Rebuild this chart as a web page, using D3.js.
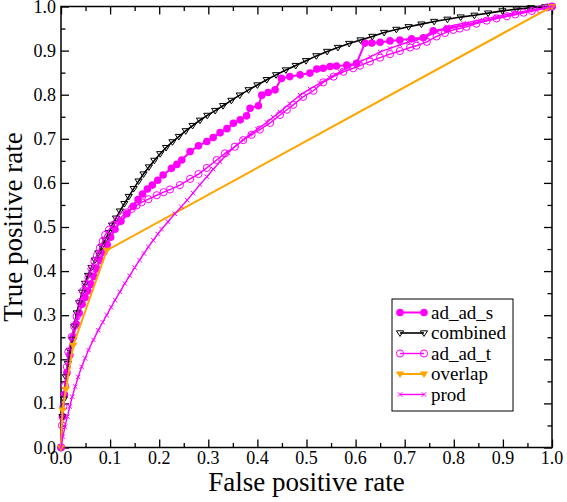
<!DOCTYPE html>
<html>
<head>
<meta charset="utf-8">
<script src="https://cdn.jsdelivr.net/npm/d3@7"></script>
</head>
<body style="margin:0">
<svg id="chart" width="567" height="502"></svg>
<script>
// ROC curves, values as [fpr, tpr]
const adAdS = [[0,0],[0.003,0.07],[0.007,0.12],[0.012,0.17],[0.018,0.21],[0.025,0.25],[0.031,0.28],[0.037,0.305],[0.043,0.325],[0.049,0.34],[0.055,0.355],[0.061,0.37],[0.067,0.388],[0.073,0.405],[0.08,0.425],[0.087,0.443],[0.094,0.46],[0.101,0.477],[0.110,0.495],[0.122,0.513],[0.134,0.53],[0.147,0.547],[0.157,0.562],[0.166,0.575],[0.176,0.586],[0.186,0.595],[0.197,0.606],[0.208,0.618],[0.225,0.633],[0.236,0.642],[0.246,0.652],[0.263,0.671],[0.28,0.684],[0.297,0.694],[0.31,0.703],[0.324,0.714],[0.338,0.723],[0.351,0.735],[0.365,0.743],[0.378,0.752],[0.385,0.769],[0.402,0.775],[0.409,0.799],[0.422,0.805],[0.436,0.811],[0.449,0.837],[0.466,0.841],[0.487,0.845],[0.507,0.849],[0.521,0.858],[0.534,0.86],[0.548,0.864],[0.561,0.865],[0.582,0.867],[0.602,0.871],[0.619,0.917],[0.633,0.917],[0.65,0.919],[0.67,0.922],[0.69,0.924],[0.714,0.927],[0.738,0.929],[0.758,0.945],[0.786,0.949],[1,1]];

const combined = [[0,0],[0.003,0.07],[0.006,0.11],[0.01,0.16],[0.014,0.19],[0.018,0.22],[0.022,0.245],[0.027,0.275],[0.032,0.305],[0.037,0.328],[0.043,0.352],[0.049,0.372],[0.055,0.39],[0.062,0.408],[0.069,0.425],[0.076,0.441],[0.083,0.456],[0.09,0.471],[0.097,0.487],[0.104,0.504],[0.112,0.52],[0.12,0.536],[0.129,0.553],[0.138,0.569],[0.148,0.587],[0.158,0.604],[0.168,0.62],[0.179,0.636],[0.19,0.651],[0.202,0.666],[0.214,0.68],[0.227,0.693],[0.24,0.705],[0.254,0.718],[0.268,0.73],[0.283,0.742],[0.298,0.753],[0.314,0.764],[0.33,0.775],[0.347,0.787],[0.364,0.799],[0.382,0.811],[0.4,0.822],[0.419,0.834],[0.438,0.845],[0.458,0.856],[0.478,0.866],[0.499,0.877],[0.52,0.888],[0.542,0.898],[0.564,0.907],[0.587,0.916],[0.61,0.924],[0.634,0.932],[0.658,0.941],[0.683,0.948],[0.708,0.954],[0.734,0.96],[0.76,0.966],[0.787,0.971],[0.814,0.976],[0.842,0.98],[0.87,0.985],[0.899,0.99],[0.928,0.994],[0.957,0.997],[0.986,0.999],[1,1]];

const adAdT = [[0,0],[0.002,0.05],[0.005,0.093],[0.008,0.14],[0.012,0.183],[0.015,0.217],[0.022,0.251],[0.027,0.275],[0.032,0.297],[0.039,0.33],[0.045,0.355],[0.05,0.37],[0.056,0.385],[0.062,0.405],[0.068,0.422],[0.073,0.435],[0.079,0.452],[0.085,0.468],[0.09,0.482],[0.098,0.494],[0.107,0.505],[0.115,0.515],[0.124,0.524],[0.134,0.533],[0.144,0.541],[0.154,0.549],[0.164,0.556],[0.178,0.563],[0.195,0.572],[0.209,0.579],[0.222,0.585],[0.242,0.595],[0.263,0.609],[0.28,0.62],[0.297,0.634],[0.317,0.652],[0.334,0.667],[0.354,0.682],[0.371,0.697],[0.388,0.709],[0.405,0.721],[0.426,0.736],[0.446,0.754],[0.46,0.766],[0.473,0.777],[0.493,0.795],[0.514,0.809],[0.534,0.828],[0.555,0.841],[0.575,0.852],[0.595,0.86],[0.609,0.866],[0.629,0.875],[0.65,0.884],[0.67,0.892],[0.69,0.899],[0.711,0.907],[0.724,0.911],[0.745,0.92],[0.765,0.932],[0.782,0.94],[0.799,0.947],[0.812,0.95],[0.826,0.954],[0.846,0.961],[0.867,0.968],[0.887,0.973],[0.908,0.978],[0.925,0.982],[0.942,0.986],[0.959,0.99],[0.976,0.994],[0.99,0.998],[1,1]];

const overlap = [[0,0],[0.003,0.085],[0.01,0.132],[0.025,0.232],[0.093,0.447],[1,1]];

const prod = [[0,0],[0.004,0.025],[0.008,0.047],[0.013,0.07],[0.018,0.093],[0.023,0.115],[0.029,0.138],[0.035,0.16],[0.042,0.183],[0.049,0.202],[0.056,0.221],[0.066,0.244],[0.076,0.266],[0.085,0.284],[0.093,0.3],[0.102,0.318],[0.11,0.334],[0.12,0.353],[0.13,0.372],[0.14,0.39],[0.15,0.408],[0.16,0.425],[0.169,0.44],[0.178,0.455],[0.188,0.47],[0.197,0.484],[0.205,0.495],[0.218,0.512],[0.232,0.53],[0.245,0.546],[0.257,0.561],[0.269,0.577],[0.283,0.596],[0.297,0.614],[0.31,0.631],[0.324,0.648],[0.34,0.668],[0.358,0.686],[0.371,0.698],[0.385,0.71],[0.4,0.722],[0.419,0.737],[0.432,0.749],[0.446,0.761],[0.466,0.78],[0.487,0.799],[0.507,0.813],[0.527,0.826],[0.547,0.839],[0.568,0.852],[0.588,0.864],[0.609,0.875],[0.63,0.886],[0.65,0.897],[0.67,0.905],[0.69,0.913],[0.707,0.919],[0.724,0.924],[0.745,0.932],[0.766,0.943],[0.786,0.954],[0.82,0.962],[0.853,0.969],[0.887,0.977],[0.921,0.985],[0.955,0.991],[0.989,0.998],[1,1]];

const seriesNames = ["ad_ad_s", "combined", "ad_ad_t", "overlap", "prod"];
const tickValues = [0, 0.1, 0.2, 0.3, 0.4, 0.5, 0.6, 0.7, 0.8, 0.9, 1.0];

const LEFT = 61, RIGHT = 552, TOP = 6.5, BOTTOM = 447.5;
const FONT = "Liberation Serif";

const svg = d3.select("#chart");

const x = d3.scaleLinear().domain([0, 1]).range([LEFT, RIGHT]);
const y = d3.scaleLinear().domain([0, 1]).range([BOTTOM, TOP]);

const minorTicks = d3.range(0.05, 1, 0.1);

// inward ticks on all four sides; labels drawn separately
function tickAxis(axisFn, scale, pos, vals, len) {
    const a = axisFn(scale).tickValues(vals).tickSize(-len).tickSizeOuter(0).tickFormat("");
    const g = svg.append("g").attr("transform", pos).call(a);
    g.select(".domain").remove();
    g.selectAll(".tick line").attr("stroke", "#000").attr("stroke-width", 1.3);
    g.selectAll("text").remove();
}

tickAxis(d3.axisBottom, x, `translate(0,${BOTTOM})`, tickValues, 8);
tickAxis(d3.axisBottom, x, `translate(0,${BOTTOM})`, minorTicks, 4.5);
tickAxis(d3.axisTop, x, `translate(0,${TOP})`, tickValues, 8);
tickAxis(d3.axisTop, x, `translate(0,${TOP})`, minorTicks, 4.5);
tickAxis(d3.axisLeft, y, `translate(${LEFT},0)`, tickValues, 8);
tickAxis(d3.axisLeft, y, `translate(${LEFT},0)`, minorTicks, 4.5);
tickAxis(d3.axisRight, y, `translate(${RIGHT},0)`, tickValues, 8);
tickAxis(d3.axisRight, y, `translate(${RIGHT},0)`, minorTicks, 4.5);

const fmt = d3.format(".1f");
svg.append("g").selectAll("text").data(tickValues).join("text")
    .attr("x", d => x(d)).attr("y", BOTTOM + 16.5)
    .attr("text-anchor", "middle")
    .attr("font-family", FONT).attr("font-size", 18)
    .text(fmt);
svg.append("g").selectAll("text").data(tickValues).join("text")
    .attr("x", LEFT - 5).attr("y", d => y(d) + 6)
    .attr("text-anchor", "end")
    .attr("font-family", FONT).attr("font-size", 18)
    .text(fmt);

// frame
svg.append("rect")
    .attr("x", LEFT).attr("y", TOP)
    .attr("width", RIGHT - LEFT).attr("height", BOTTOM - TOP)
    .attr("fill", "none").attr("stroke", "#000").attr("stroke-width", 1.5);

// axis titles
svg.append("text")
    .attr("x", (LEFT + RIGHT) / 2).attr("y", 491)
    .attr("text-anchor", "middle")
    .attr("font-family", FONT).attr("font-size", 27)
    .text("False positive rate");
svg.append("text")
    .attr("transform", `translate(22,${(TOP + BOTTOM) / 2}) rotate(-90)`)
    .attr("text-anchor", "middle")
    .attr("font-family", FONT).attr("font-size", 27)
    .text("True positive rate");

// marker painters
const symDown = (s) => `M${-s},${-s * 0.6}L${s},${-s * 0.6}L0,${s * 0.95}Z`;
const markers = {
    dot: (g, color) => g.append("circle").attr("r", 3.8).attr("fill", color),
    tri: (g, color) => g.append("path").attr("d", symDown(3.6)).attr("fill", "none").attr("stroke", color).attr("stroke-width", 1),
    ring: (g, color) => g.append("circle").attr("r", 3.6).attr("fill", "none").attr("stroke", color).attr("stroke-width", 1),
    tri2: (g, color) => g.append("path").attr("d", symDown(4.2)).attr("fill", color),
    cross: (g, color) => g.append("path").attr("d", "M-2.2,-2.2L2.2,2.2M-2.2,2.2L2.2,-2.2").attr("stroke", color).attr("stroke-width", 1)
};

const series = [
    { name: seriesNames[0], data: adAdS, color: "#ff00ff", width: 2, marker: "dot" },
    { name: seriesNames[1], data: combined, color: "#000000", width: 1.6, marker: "tri" },
    { name: seriesNames[2], data: adAdT, color: "#ff00ff", width: 1.4, marker: "ring" },
    { name: seriesNames[3], data: overlap, color: "#ffa500", width: 2, marker: "tri2" },
    { name: seriesNames[4], data: prod, color: "#ff00ff", width: 1.4, marker: "cross" }
];

const line = d3.line().x(d => x(d[0])).y(d => y(d[1]));

series.forEach(s => {
    const g = svg.append("g");
    g.append("path").attr("d", line(s.data))
        .attr("fill", "none").attr("stroke", s.color).attr("stroke-width", s.width);
    s.data.forEach(d => {
        const m = g.append("g").attr("transform", `translate(${x(d[0])},${y(d[1])})`);
        markers[s.marker](m, s.color);
    });
});

// legend
const leg = svg.append("g").attr("transform", "translate(392,299)");
leg.append("rect").attr("width", 121).attr("height", 112)
    .attr("fill", "#fff").attr("stroke", "#000").attr("stroke-width", 1);
series.forEach((s, i) => {
    const cy = 13.5 + i * 20.5;
    leg.append("line").attr("x1", 8).attr("x2", 32).attr("y1", cy).attr("y2", cy)
        .attr("stroke", s.color).attr("stroke-width", s.width);
    [8, 32].forEach(px => {
        const m = leg.append("g").attr("transform", `translate(${px},${cy})`);
        markers[s.marker](m, s.color);
    });
    leg.append("text").attr("x", 39).attr("y", cy + 6)
        .attr("font-family", FONT).attr("font-size", 19).text(s.name);
});
</script>
</body>
</html>
